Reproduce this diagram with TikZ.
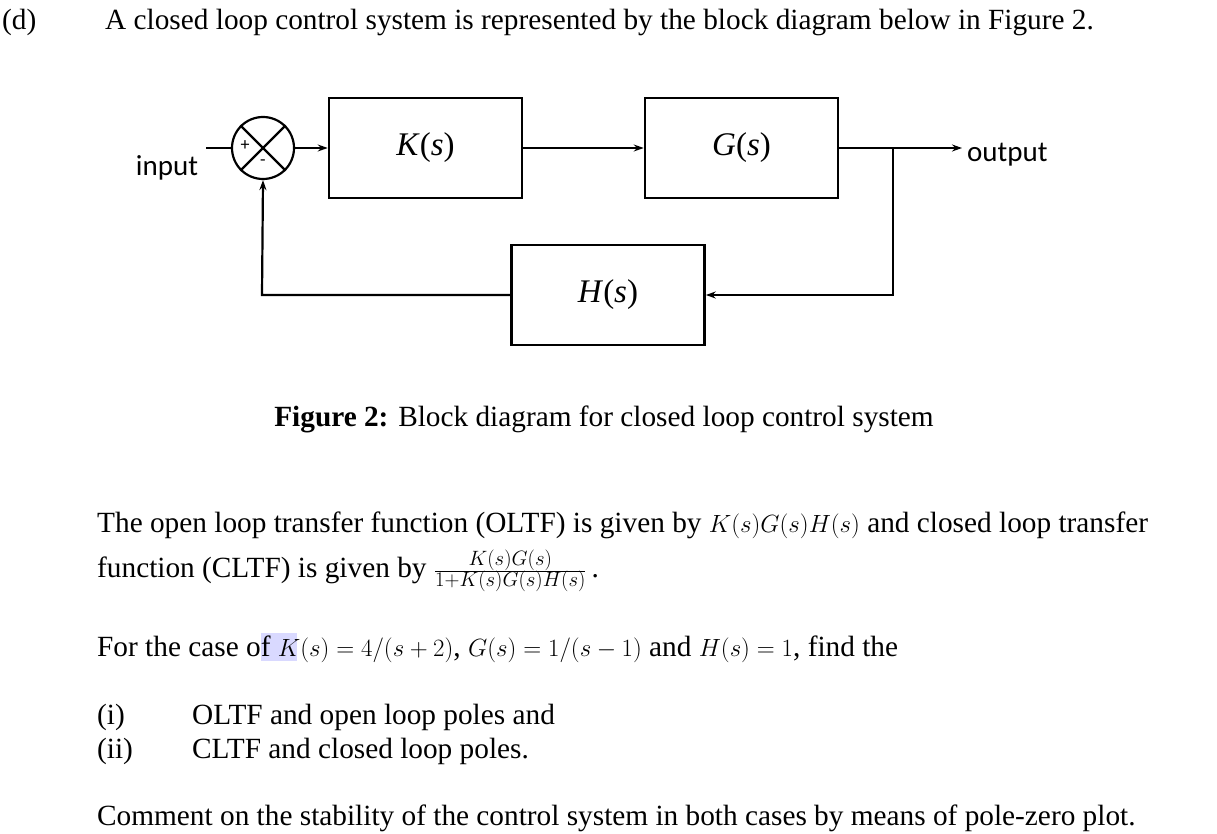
\documentclass[tikz,border=0pt]{standalone}
\usepackage{fontspec}
\setmainfont{Liberation Serif}
\newfontfamily\labelfont{Carlito}
\usetikzlibrary{arrows.meta}
\begin{document}
\begin{tikzpicture}[x=1pt,y=-1pt,>={Stealth[length=10pt,width=7pt]},
  block/.style={draw,line width=2.6pt,minimum width=193pt,minimum height=100pt,inner sep=0pt,font=\fontsize{33}{36}\selectfont},
  sig/.style={line width=2.2pt},
  txt/.style={anchor=base west,inner sep=0pt,font=\fontsize{29.3}{32}\selectfont},
  lbl/.style={inner sep=0pt,font=\labelfont\fontsize{29}{32}\selectfont}]
  \useasboundingbox (0,0) rectangle (1217,834);
  % question text
  \node[txt] (dmark) at (2,30) {(d)};
  \node[txt] (intro) at (105,30) {A closed loop control system is represented by the block diagram below in Figure 2.};
  % blocks
  \node[block] (K) at (425.5,148) {\textit{K}(\textit{s})};
  \node[block] (G) at (741.5,148) {\textit{G}(\textit{s})};
  \node[block] (H) at (608,295) {\textit{H}(\textit{s})};
  \node[draw,circle,line width=2.2pt,minimum size=62pt,inner sep=0pt] (sum) at (263,148) {};
  \draw[sig] (sum.north west) -- (sum.south east) (sum.north east) -- (sum.south west);
  \node[inner sep=0pt,font=\labelfont\fontsize{18}{20}\selectfont] (plus) at (245,146) {+};
  \node[inner sep=0pt,font=\labelfont\fontsize{18}{20}\selectfont] (minus) at (263,163) {-};
  \coordinate (in) at (206,148);
  \coordinate (branch) at (893,148);
  \coordinate (out) at (962,148);
  \coordinate (fbl) at (262,295);
  \node[lbl] (inlbl) at (167,168) {input};
  \node[lbl,anchor=west] (outlbl) at (967,155) {output};
  \draw[sig] (in) -- (sum.west);
  \draw[sig,->] (sum.east) -- (K.west);
  \draw[sig,->] (K.east) -- (G.west);
  \draw[sig,->] (G.east) -- (out);
  \draw[sig,->] (branch) |- (H.east);
  \draw[sig,->] (H.west) -- (fbl) -- (sum.south);
  % caption and question
  \node[txt,anchor=base] (cap) at (604,426) {\textbf{Figure 2:} Block diagram for closed loop control system};
  \node[txt] (l1) at (97,532) {The open loop transfer function (OLTF) is given by $K(s)G(s)H(s)$ and closed loop transfer};
  \node[txt] (l2) at (97,577) {function (CLTF) is given by $\frac{K(s)G(s)}{1+K(s)G(s)H(s)}$\,.};
  \fill[blue!15] (261,633) rectangle (297,661);
  \node[txt] (l3) at (97,656) {For the case of $K(s)=4/(s+2)$, $G(s)=1/(s-1)$ and $H(s)=1$, find the};
  \node[txt] (i1) at (97,724) {(i)};
  \node[txt] (i1t) at (192,724) {OLTF and open loop poles and};
  \node[txt] (i2) at (97,758) {(ii)};
  \node[txt] (i2t) at (192,758) {CLTF and closed loop poles.};
  \node[txt] (l4) at (97,825) {Comment on the stability of the control system in both cases by means of pole-zero plot.};
\end{tikzpicture}
\end{document}
